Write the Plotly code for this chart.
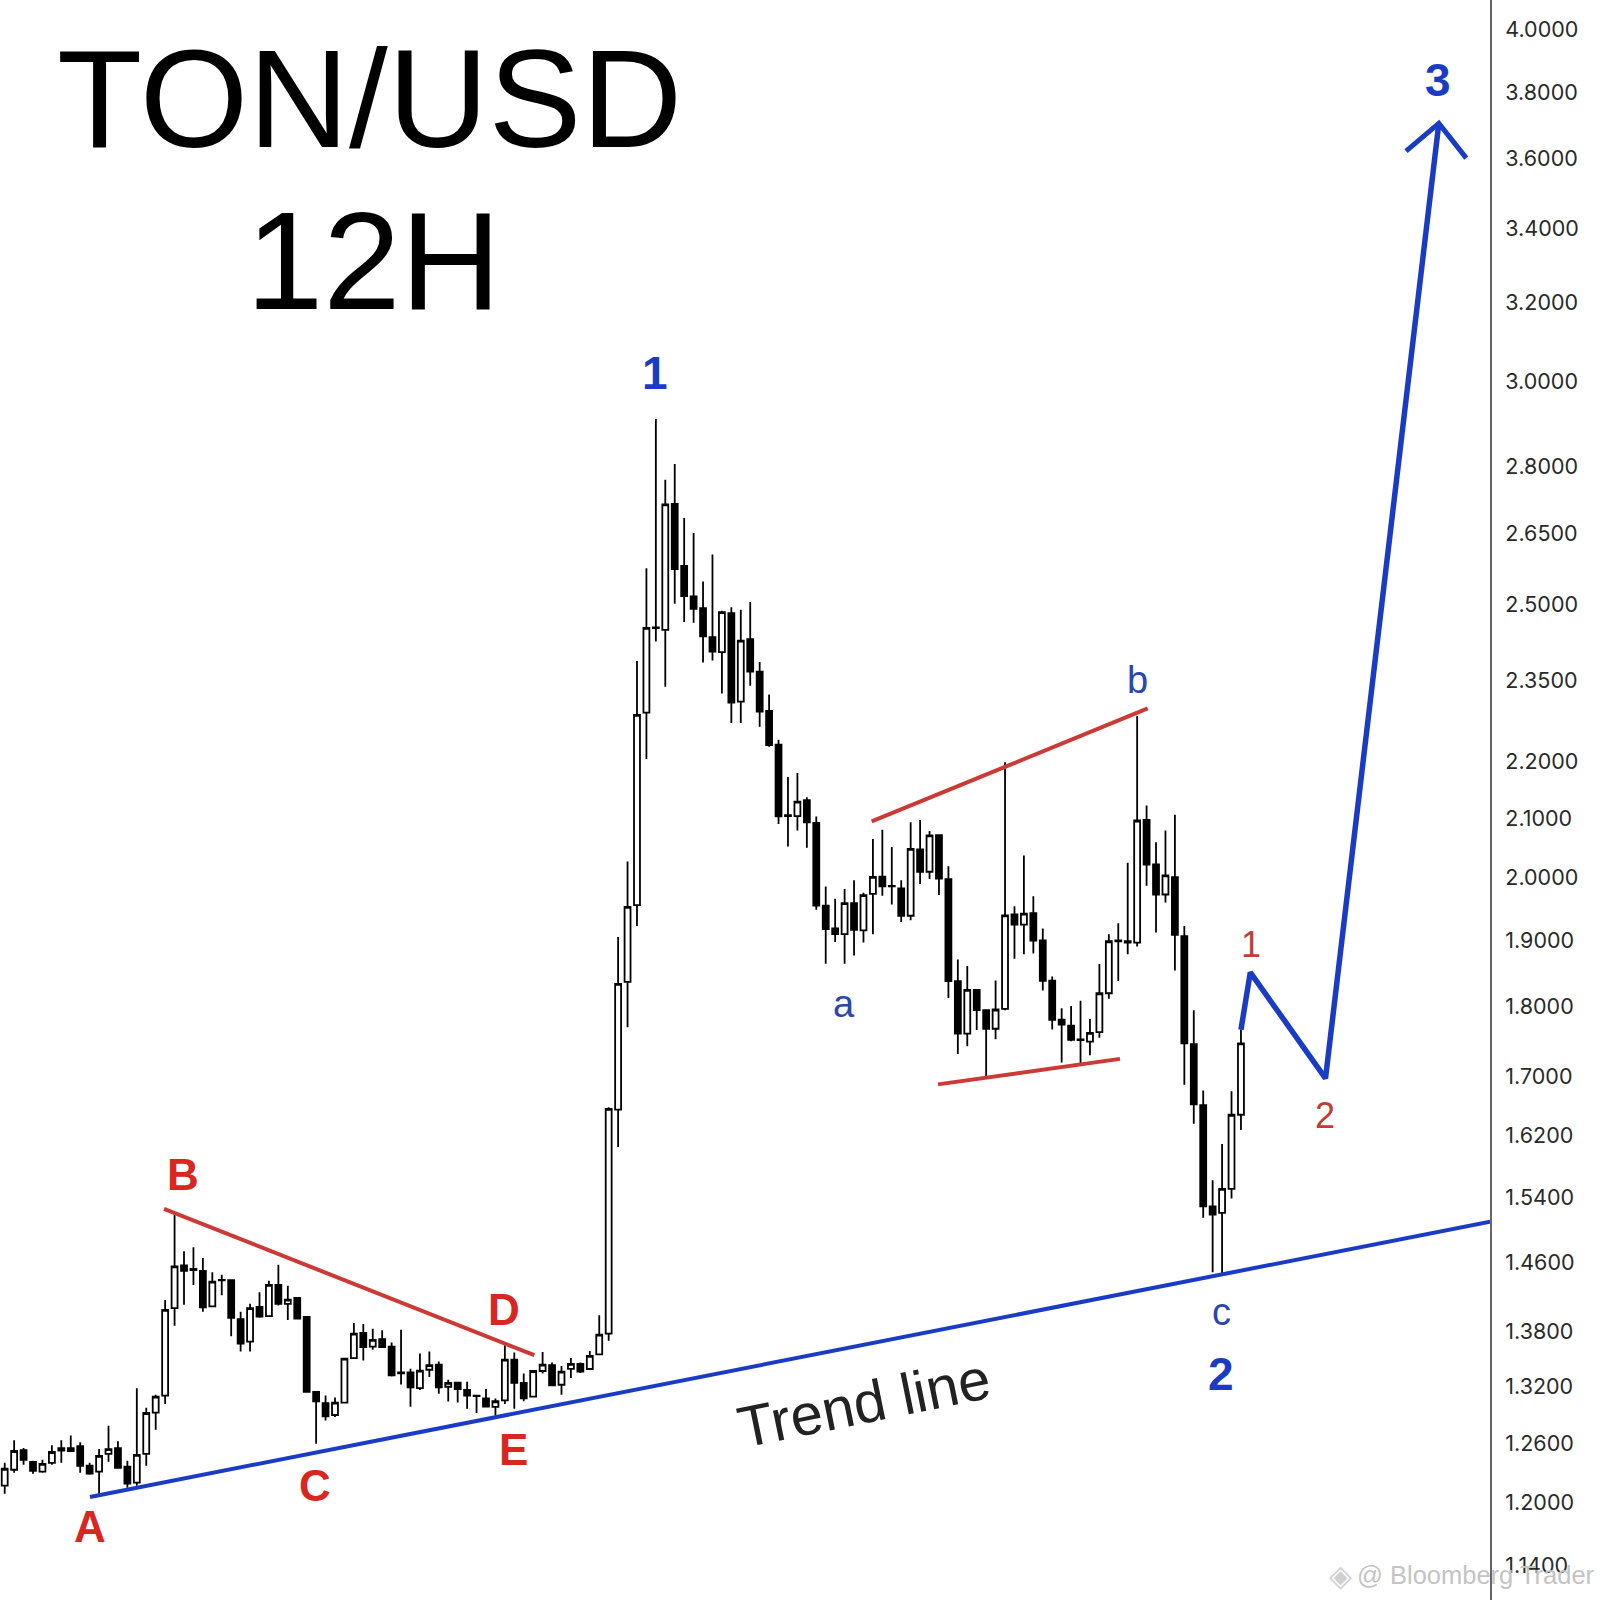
import plotly.graph_objects as go

opens = [1.217,1.233,1.253,1.241,1.231,1.240,1.255,1.255,1.257,1.237,1.231,1.249,1.255,1.236,1.220,1.249,1.292,1.310,1.407,1.457,1.453,1.4505,1.409,1.440,1.4395,1.3946,1.369,1.4085,1.398,1.434,1.412,1.419,1.397,1.314,1.302,1.2894,1.3026,1.3508,1.379,1.3635,1.372,1.3635,1.335,1.335,1.318,1.338,1.3435,1.3195,1.324,1.316,1.310,1.307,1.298,1.305,1.349,1.3236,1.309,1.3366,1.343,1.3217,1.339,1.3445,1.3388,1.355,1.378,1.655,1.837,1.956,2.289,2.4545,2.4495,2.715,2.581,2.517,2.493,2.435,2.405,2.483,2.310,2.431,2.367,2.2925,2.230,2.105,2.1036,2.131,2.092,1.955,1.919,1.910,1.959,1.916,1.974,2.002,1.987,1.983,1.939,2.047,2.010,2.071,1.998,1.838,1.761,1.825,1.795,1.768,1.797,1.941,1.925,1.943,1.9005,1.839,1.781,1.7725,1.7527,1.7495,1.763,1.820,1.9005,1.899,1.897,2.097,2.022,1.973,2.001,1.907,1.746,1.661,1.529,1.521,1.551,1.648]
highs = [1.240,1.263,1.255,1.242,1.243,1.258,1.263,1.268,1.261,1.240,1.254,1.278,1.262,1.242,1.318,1.297,1.311,1.4165,1.521,1.474,1.479,1.466,1.449,1.446,1.4395,1.403,1.412,1.4256,1.439,1.458,1.433,1.419,1.397,1.314,1.310,1.308,1.3503,1.390,1.389,1.3836,1.382,1.368,1.3825,1.339,1.356,1.358,1.347,1.327,1.325,1.325,1.3102,1.317,1.307,1.365,1.357,1.334,1.3366,1.3576,1.346,1.342,1.351,1.346,1.3587,1.399,1.658,1.9055,2.027,2.388,2.576,2.91,2.769,2.805,2.684,2.651,2.548,2.605,2.488,2.495,2.490,2.506,2.386,2.3235,2.239,2.172,2.179,2.136,2.103,1.986,1.966,1.982,1.996,1.976,2.0645,2.080,2.051,1.996,2.093,2.097,2.078,2.071,2.019,1.871,1.861,1.826,1.795,1.839,2.198,1.954,2.037,1.970,1.919,1.845,1.798,1.801,1.809,1.782,1.864,1.910,1.927,2.025,2.283,2.122,2.059,2.079,2.106,1.923,1.795,1.681,1.562,1.609,1.680,1.767]
lows = [1.209,1.230,1.238,1.229,1.230,1.238,1.240,1.251,1.230,1.228,1.208,1.241,1.234,1.215,1.217,1.237,1.274,1.301,1.387,1.411,1.434,1.403,1.409,1.422,1.375,1.358,1.358,1.396,1.398,1.410,1.3935,1.3945,1.314,1.2595,1.2835,1.2873,1.3026,1.3508,1.348,1.360,1.363,1.3307,1.322,1.298,1.316,1.330,1.312,1.3036,1.3026,1.296,1.2915,1.298,1.289,1.301,1.296,1.304,1.309,1.334,1.320,1.311,1.329,1.3345,1.3388,1.355,1.370,1.605,1.770,1.923,2.204,2.426,2.338,2.502,2.465,2.4635,2.385,2.389,2.325,2.270,2.270,2.340,2.263,2.226,2.090,2.052,2.079,2.050,1.9485,1.8645,1.898,1.8645,1.877,1.897,1.910,1.971,1.957,1.929,1.932,1.990,1.998,1.972,1.813,1.732,1.743,1.766,1.700,1.753,1.795,1.872,1.879,1.880,1.824,1.767,1.720,1.750,1.7155,1.730,1.755,1.812,1.8385,1.879,1.891,1.987,1.9125,1.960,1.854,1.689,1.636,1.515,1.449,1.446,1.539,1.6275]
closes = [1.234,1.252,1.243,1.232,1.239,1.251,1.2525,1.252,1.237,1.229,1.247,1.254,1.235,1.219,1.248,1.2915,1.309,1.405,1.456,1.4505,1.4515,1.408,1.438,1.4395,1.396,1.367,1.407,1.3975,1.434,1.412,1.417,1.395,1.314,1.304,1.288,1.3026,1.3503,1.378,1.363,1.371,1.363,1.332,1.334,1.319,1.337,1.343,1.319,1.3236,1.317,1.310,1.3094,1.2984,1.304,1.349,1.3236,1.307,1.3366,1.3435,1.321,1.336,1.3445,1.336,1.3533,1.377,1.656,1.834,1.953,2.285,2.4535,2.453,2.714,2.574,2.518,2.492,2.4365,2.406,2.485,2.308,2.428,2.367,2.291,2.229,2.103,2.1035,2.1286,2.093,1.955,1.918,1.910,1.959,1.917,1.972,2.0015,1.986,1.986,1.939,2.048,2.010,2.0705,1.9986,1.838,1.761,1.825,1.795,1.768,1.796,1.9395,1.925,1.9425,1.900,1.8385,1.781,1.774,1.752,1.7515,1.762,1.820,1.899,1.899,1.897,2.096,2.022,1.973,2.004,1.909,1.747,1.662,1.529,1.519,1.551,1.648,1.747]
candle_index = list(range(len(opens)))

tick_values = [4.0,3.8,3.6,3.4,3.2,3.0,2.8,2.65,2.5,2.35,2.2,2.1,2.0,1.9,1.8,1.7,1.62,1.54,1.46,1.38,1.32,1.26,1.2,1.14]
tick_labels = ["%.4f" % v for v in tick_values]

trend_x = [9.04, 157.4]
trend_y = [1.2059, 1.5101]
triangle_x = [16.88, 56.12]
triangle_y = [1.526, 1.354]
wedge_top_x = [91.87, 121.12]
wedge_top_y = [2.0944, 2.297]
wedge_low_x = [98.9, 118.18]
wedge_low_y = [1.6894, 1.725]
wave_x = [131.0, 131.99, 139.96, 151.97]
wave_y = [1.7666, 1.8513, 1.6978, 3.7053]
head_x = [148.49, 151.97, 154.88]
head_y = [3.6222, 3.7053, 3.6015]

BLUE = "#1a3cc4"
W = 1600.0

fig = go.Figure()
fig.add_trace(go.Candlestick(
    x=candle_index, open=opens, high=highs, low=lows, close=closes,
    whiskerwidth=0,
    increasing=dict(line=dict(color="#000000", width=1.8), fillcolor="#ffffff"),
    decreasing=dict(line=dict(color="#000000", width=1.8), fillcolor="#000000"),
    hoverinfo="skip",
))
def seg(xs, ys, color, width):
    fig.add_trace(go.Scatter(x=xs, y=ys, mode="lines", hoverinfo="skip",
                             line=dict(color=color, width=width)))
seg(triangle_x, triangle_y, "#cc3a36", 4)
seg(wedge_top_x, wedge_top_y, "#cc3a36", 4)
seg(wedge_low_x, wedge_low_y, "#cc3a36", 4)
seg(trend_x, trend_y, BLUE, 4)
seg(wave_x, wave_y, BLUE, 5.5)
seg(head_x, head_y, BLUE, 5)

def label(text, px, py, size, color, bold=False, angle=0, family="Liberation Sans"):
    t = "<b>%s</b>" % text if bold else text
    fig.add_annotation(text=t, x=px / W, y=1 - py / W, xref="paper", yref="paper",
                       xanchor="center", yanchor="middle", showarrow=False,
                       textangle=angle,
                       font=dict(family=family, size=size, color=color))

label("TON/USD", 369.5, 99, 139.5, "#000000")
label("12H", 373, 261, 139, "#000000")
label("1", 655, 373, 46, BLUE, True)
label("2", 1221, 1374, 46, BLUE, True)
label("3", 1438, 80, 46, BLUE, True)
for t, px, py in [("A", 90, 1526), ("B", 183, 1174), ("C", 315, 1485), ("D", 504, 1309), ("E", 513, 1449)]:
    label(t, px, py, 44, "#d9261f", True)
for t, px, py in [("a", 844, 1004), ("b", 1137, 680), ("c", 1221, 1312)]:
    label(t, px, py, 38, "#2a46b0")
label("1", 1251, 944, 36, "#c23b35")
label("2", 1325, 1115, 36, "#c23b35")
label("Trend line", 864, 1402, 58, "#222222", angle=-11.5)
label("@ Bloomberg Trader", 1476, 1575, 25.5, "#c4c4c4")
label("◈", 1340, 1575, 30, "#d0d0d0", family="DejaVu Sans")

fig.update_layout(
    width=1600, height=1600, margin=dict(l=0, r=0, t=0, b=0, pad=0),
    paper_bgcolor="#ffffff", plot_bgcolor="#ffffff", showlegend=False,
    boxgap=0.3, boxgroupgap=0.1,
    xaxis=dict(domain=[0, 1490 / W], range=[-0.498, 157.39], visible=False,
               rangeslider=dict(visible=False), showgrid=False, zeroline=False),
    yaxis=dict(type="log", range=[0.04473, 0.6126], side="right", anchor="x",
               autorange=False, tickmode="array", tickvals=tick_values, ticktext=tick_labels,
               ticks="outside", ticklen=9, tickcolor="rgba(0,0,0,0)",
               showgrid=False, zeroline=False, showline=True,
               linecolor="#666666", linewidth=2,
               tickfont=dict(family="Inter", size=21.5, color="#2a2a2a")),
)
fig.write_html("out.html", config=dict(displayModeBar=False),
               post_script="document.body.style.margin='0';")
